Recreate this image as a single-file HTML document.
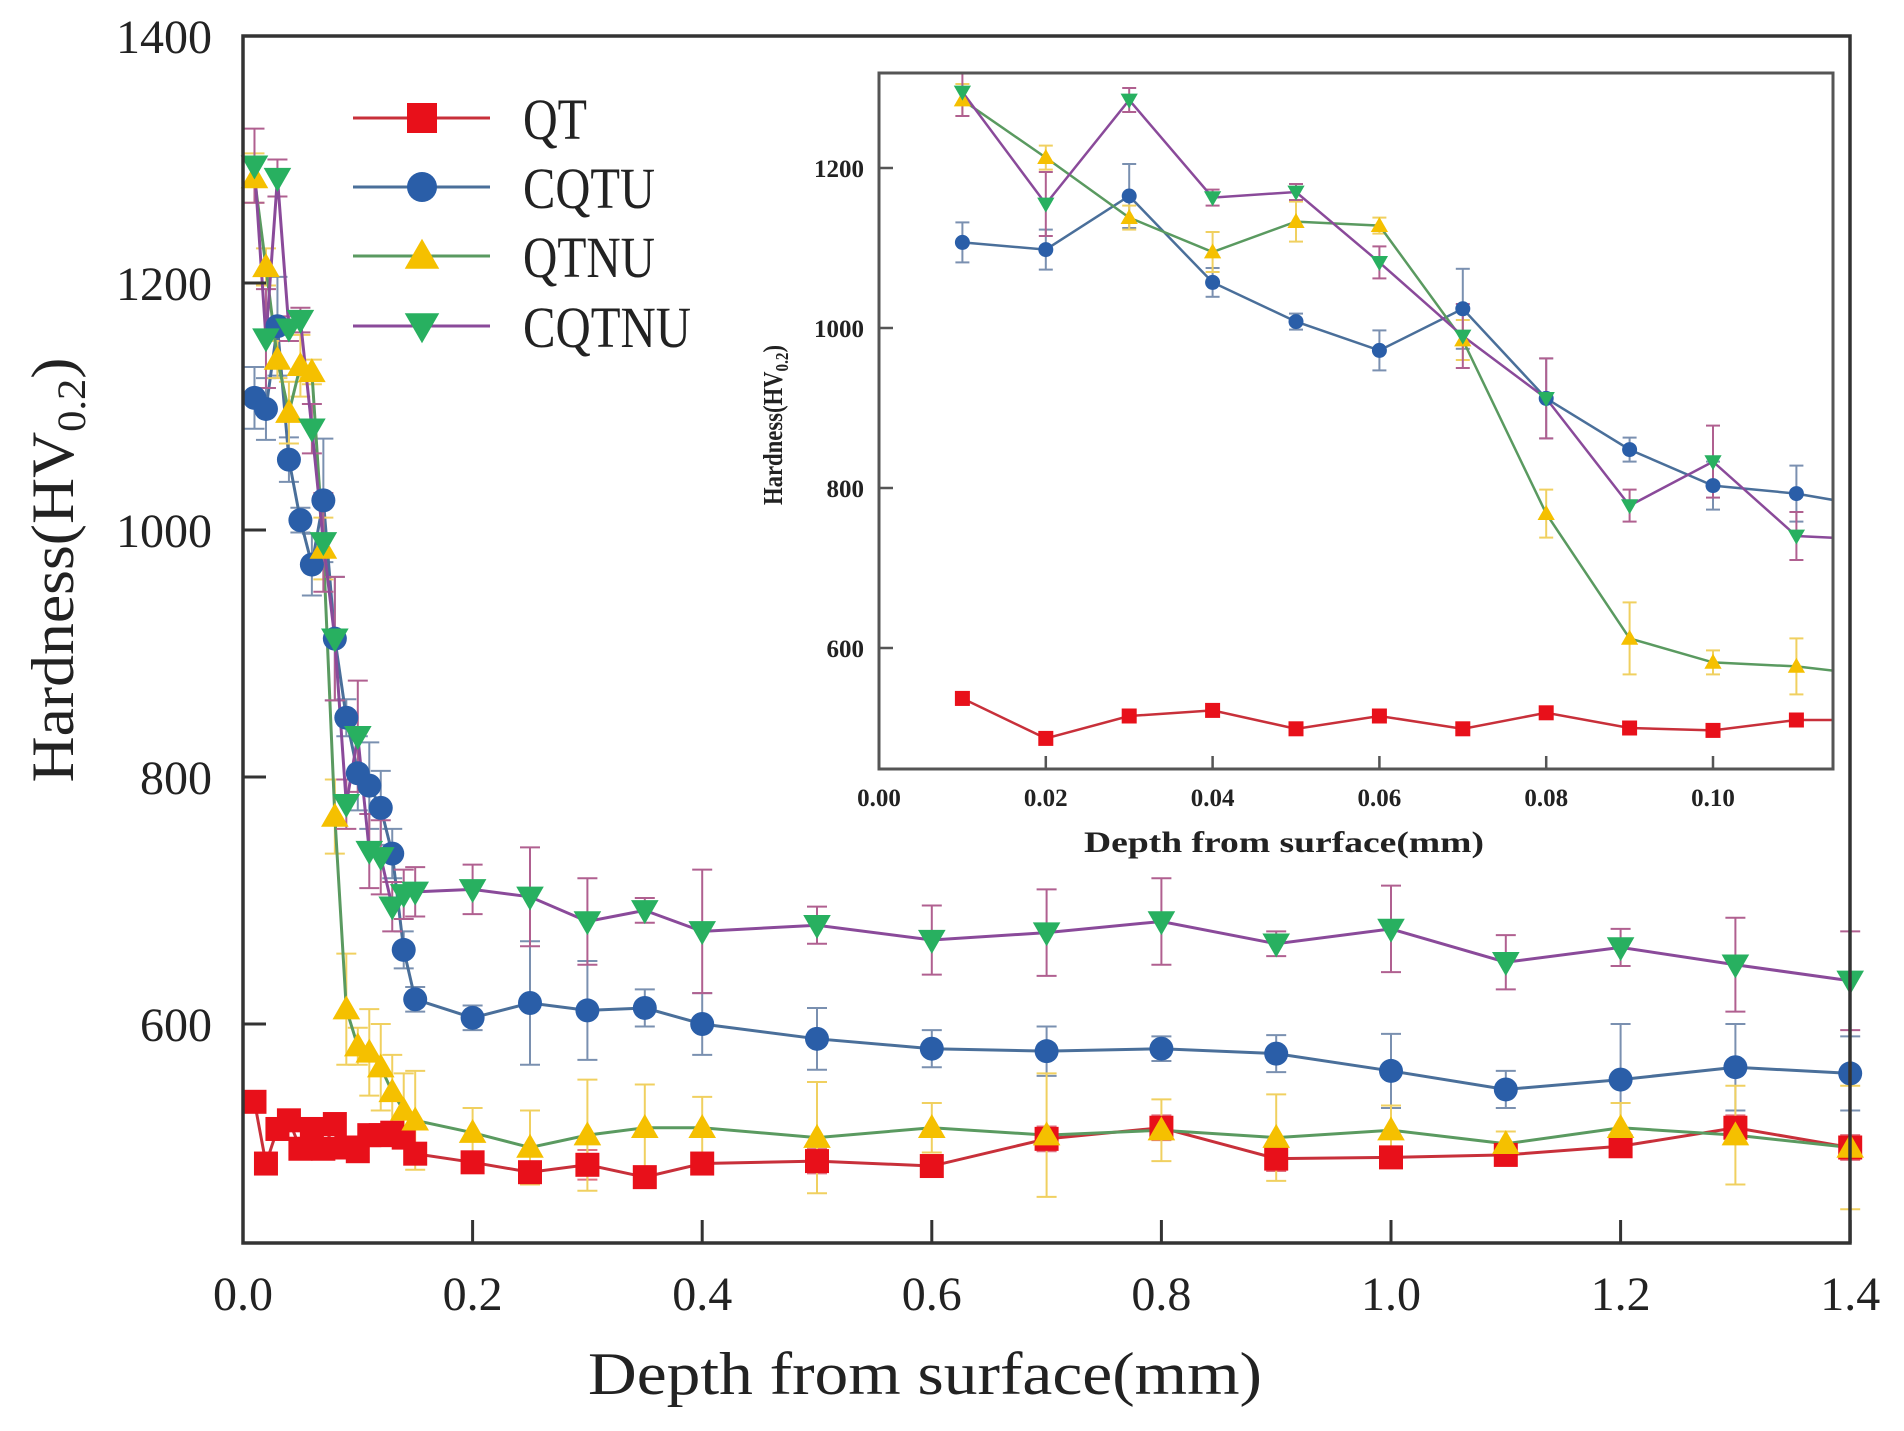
<!DOCTYPE html>
<html><head><meta charset="utf-8"><style>
html,body{margin:0;padding:0;background:#fff;}
svg{display:block;}
text{font-family:"Liberation Serif",serif;fill:#222;}
</style></head><body>
<svg id="s" width="1904" height="1431" viewBox="0 0 1904 1431" xmlns="http://www.w3.org/2000/svg">
<defs>
<clipPath id="ic"><rect x="879" y="73" width="954" height="696"/></clipPath>
</defs>
<rect width="1904" height="1431" fill="#fff"/>
<g id="main"></g>
<rect x="243" y="36" width="1607" height="1207" fill="none" stroke="#333" stroke-width="3.5"/>
<g id="mt" font-size="48"></g>
<text x="925" y="1394" font-size="60" text-anchor="middle" textLength="674" lengthAdjust="spacingAndGlyphs">Depth from surface(mm)</text>
<text transform="translate(73,570) rotate(-90)" font-size="60" text-anchor="middle" textLength="425" lengthAdjust="spacingAndGlyphs">Hardness(HV<tspan font-size="40" dy="12">0.2</tspan><tspan dy="-12">)</tspan></text>
<g id="leg"></g>
<rect x="879" y="73" width="954" height="696" fill="#fff"/>
<g id="ins" clip-path="url(#ic)"></g>
<rect x="879" y="73" width="954" height="696" fill="none" stroke="#555" stroke-width="3"/>
<g id="it" font-size="25" font-weight="bold" fill="#444"></g>
<text x="1284" y="852" font-size="30" font-weight="bold" text-anchor="middle" textLength="400" lengthAdjust="spacingAndGlyphs" fill="#333">Depth from surface(mm)</text>
<text transform="translate(782,425) rotate(-90)" font-size="27" font-weight="bold" text-anchor="middle" textLength="160" lengthAdjust="spacingAndGlyphs">Hardness(HV<tspan font-size="18" dy="6">0.2</tspan><tspan dy="-6">)</tspan></text>
</svg>
<script>
var NS="http://www.w3.org/2000/svg";
function el(p,t,a,txt){var e=document.createElementNS(NS,t);for(var k in a)e.setAttribute(k,a[k]);if(txt!=null)e.textContent=txt;p.appendChild(e);return e;}
var X=[0.01,0.02,0.03,0.04,0.05,0.06,0.07,0.08,0.09,0.10,0.11,0.12,0.13,0.14,0.15,0.2,0.25,0.3,0.35,0.4,0.5,0.6,0.7,0.8,0.9,1.0,1.1,1.2,1.3,1.4];
var S=[
{n:"QT",m:"sq",lc:"#c8303a",mc:"#e8101a",ec:"#e07080",
 y:[537,487,515,522,499,515,499,519,500,497,510,510,512,508,495,488,480,486,476,487,489,485,507,516,491,492,494,501,516,500],
 e:[8,6,6,6,6,6,6,6,6,6,6,6,6,6,8,8,8,12,6,8,10,8,10,10,10,8,8,8,10,10]},
{n:"CQTU",m:"ci",lc:"#4a6f9a",mc:"#2a5ea8",ec:"#7a90b0",
 y:[1107,1098,1165,1057,1008,972,1024,912,848,803,793,775,738,660,620,605,617,611,613,600,588,580,578,580,576,562,547,555,565,560],
 e:[25,25,40,18,10,25,50,50,15,30,35,30,20,15,10,10,50,40,15,25,25,15,20,10,15,30,15,45,35,30]},
{n:"QTNU",m:"tu",lc:"#5a9a60",mc:"#f5c000",ec:"#f0d060",
 y:[1285,1213,1138,1095,1133,1128,985,768,612,582,577,565,545,530,522,512,500,510,516,516,508,516,510,514,508,514,503,516,510,500],
 e:[20,15,15,25,25,10,25,30,45,15,35,35,30,30,40,20,30,45,35,25,45,20,50,25,35,20,10,20,40,50]},
{n:"CQTNU",m:"td",lc:"#8a4a9a",mc:"#28b060",ec:"#b06090",
 y:[1295,1155,1285,1163,1170,1082,990,912,778,833,740,735,695,705,707,709,703,683,692,675,680,668,674,683,665,677,650,662,648,635],
 e:[30,40,15,10,10,20,40,50,20,45,30,30,20,20,20,20,40,35,10,50,15,28,35,35,10,35,22,15,38,40]}
];
function marker(g,m,x,y,r,c){
 if(m=="sq")el(g,"rect",{x:x-r,y:y-r,width:2*r,height:2*r,fill:c});
 else if(m=="ci")el(g,"circle",{cx:x,cy:y,r:r,fill:c});
 else if(m=="tu")el(g,"polygon",{points:(x)+","+(y-r*1.15)+" "+(x-r*1.15)+","+(y+r*0.85)+" "+(x+r*1.15)+","+(y+r*0.85),fill:c});
 else el(g,"polygon",{points:(x)+","+(y+r*1.15)+" "+(x-r*1.15)+","+(y-r*0.85)+" "+(x+r*1.15)+","+(y-r*0.85),fill:c});
}
function draw(g,fx,fy,r,lw,maxx,ew){
 S.forEach(function(s){
  var pts=[];
  X.forEach(function(x,i){if(x<=maxx)pts.push([fx(x),fy(s.y[i]),fy(s.y[i]+s.e[i]),fy(s.y[i]-s.e[i])]);});
  pts.forEach(function(p){el(g,"line",{x1:p[0],x2:p[0],y1:p[2],y2:p[3],stroke:s.ec,"stroke-width":2});
   el(g,"line",{x1:p[0]-ew,x2:p[0]+ew,y1:p[2],y2:p[2],stroke:s.ec,"stroke-width":2});
   el(g,"line",{x1:p[0]-ew,x2:p[0]+ew,y1:p[3],y2:p[3],stroke:s.ec,"stroke-width":2});});
  el(g,"polyline",{points:pts.map(function(p){return p[0]+","+p[1]}).join(" "),fill:"none",stroke:s.lc,"stroke-width":lw});
 });
 S.forEach(function(s){X.forEach(function(x,i){if(x<=maxx)marker(g,s.m,fx(x),fy(s.y[i]),r,s.mc);});});
}
var mx=function(x){return 243+x*1148;}, my=function(v){return 36+(1400-v)*1.235;};
draw(document.getElementById("main"),mx,my,12,3,1.41,10);
var ix=function(x){return 879+x*8340;}, iy=function(v){return 168+(1200-v)*0.8;};
draw(document.getElementById("ins"),ix,iy,7.5,2.5,0.125,7);
var mt=document.getElementById("mt");
for(var i=0;i<=7;i++){var x=mx(i*0.2);
 el(mt,"line",{x1:x,x2:x,y1:1243,y2:1220,stroke:"#333","stroke-width":3});
 el(mt,"text",{x:x,y:1310,"text-anchor":"middle"},(i*0.2).toFixed(1));}
[600,800,1000,1200,1400].forEach(function(v){var y=my(v);
 el(mt,"line",{x1:243,x2:266,y1:y,y2:y,stroke:"#333","stroke-width":3});
 el(mt,"text",{x:212,y:y+17,"text-anchor":"end"},v);});
var it=document.getElementById("it");
for(var i=0;i<=5;i++){var x=ix(i*0.02);
 el(it,"line",{x1:x,x2:x,y1:769,y2:756,stroke:"#555","stroke-width":2.5});
 el(it,"text",{x:x,y:806,"text-anchor":"middle",fill:"#444"},(i*0.02).toFixed(2));}
[600,800,1000,1200].forEach(function(v){var y=iy(v);
 el(it,"line",{x1:879,x2:893,y1:y,y2:y,stroke:"#555","stroke-width":2.5});
 el(it,"text",{x:864,y:y+9,"text-anchor":"end",fill:"#444"},v);});
var lg=document.getElementById("leg");var rows=[118,187,256,326];var tl=[64,132,132,168];
S.forEach(function(s,i){var y=rows[i];
 el(lg,"line",{x1:353,x2:490,y1:y,y2:y,stroke:s.lc,"stroke-width":3});
 marker(lg,s.m,422,y,15,s.mc);
 el(lg,"text",{x:523,y:y+21,"font-size":58,textLength:tl[i],lengthAdjust:"spacingAndGlyphs"},s.n);});
</script>
</body></html>
